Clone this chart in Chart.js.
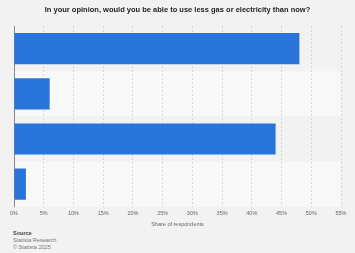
<!DOCTYPE html>
<html>
<head>
<meta charset="utf-8">
<script src="https://cdn.jsdelivr.net/npm/chart.js@4"></script>
<style>
  html, body { margin: 0; padding: 0; background: #f2f2f2; }
  body { width: 355px; height: 253px; position: relative; overflow: hidden; font-family: "Liberation Sans", Arial, sans-serif; }
  #wrap { position: absolute; left: 0; top: 0; width: 355px; height: 230px; }
  #source { position: absolute; left: 13px; top: 230px; font-size: 5.5px; line-height: 6.8px; color: #777; }
  #source b { color: #444; font-weight: bold; }
</style>
</head>
<body>
<div id="wrap"><canvas id="chart"></canvas></div>
<div id="source"><b>Source</b><br>Statista Research<br>© Statista 2025</div>
<script>
const titleText = 'In your opinion, would you be able to use less gas or electricity than now?';
const categories = ['Yes, a lot', 'Yes, a little', 'No', "Don't know"];
const shares = [48, 6, 44, 2];
const xTicksMax = 55;
const xStep = 5;

// alternating row backgrounds behind the bars
const bandPlugin = {
    id: 'bands',
    beforeDraw(chart) {
        const { ctx, chartArea, scales } = chart;
        const y = scales.y;
        ctx.save();
        categories.forEach((c, i) => {
            const top = y.getPixelForValue(i - 0.5);
            const bottom = y.getPixelForValue(i + 0.5);
            ctx.fillStyle = i % 2 === 0 ? '#f2f2f2' : '#f8f8f8';
            ctx.fillRect(chartArea.left, top, chartArea.right - chartArea.left, bottom - top);
        });
        ctx.restore();
    }
};

new Chart(document.getElementById('chart'), {
    type: 'bar',
    data: {
        labels: categories,
        datasets: [{
            data: shares,
            backgroundColor: '#2874da',
            borderWidth: 0,
            barPercentage: 0.69,
            categoryPercentage: 1
        }]
    },
    options: {
        indexAxis: 'y',
        responsive: true,
        maintainAspectRatio: false,
        animation: false,
        layout: { padding: { left: 14, right: 14, top: 0, bottom: 2 } },
        scales: {
            x: {
                min: 0,
                max: xTicksMax,
                ticks: {
                    stepSize: xStep,
                    callback: v => v + '%',
                    color: '#666',
                    font: { size: 5.5, family: 'Liberation Sans' },
                    padding: 3,
                    maxRotation: 0
                },
                grid: { color: '#d0d0d0', lineWidth: 0.8, drawTicks: false },
                border: { display: false, dash: [2, 2] },
                title: {
                    display: true,
                    text: 'Share of respondents',
                    color: '#666',
                    font: { size: 5.5, family: 'Liberation Sans' },
                    padding: { top: 2, bottom: 0 }
                }
            },
            y: {
                afterFit: scale => { scale.width = 0; },
                ticks: { display: false },
                grid: { display: false },
                border: { display: true, color: '#888', width: 1 }
            }
        },
        plugins: {
            legend: { display: false },
            tooltip: { enabled: false },
            title: {
                display: true,
                text: titleText,
                color: '#222',
                font: { size: 7.5, weight: 'bold', family: 'Liberation Sans' },
                padding: { top: 5, bottom: 12 }
            }
        }
    },
    plugins: [bandPlugin]
});
</script>
</body>
</html>
